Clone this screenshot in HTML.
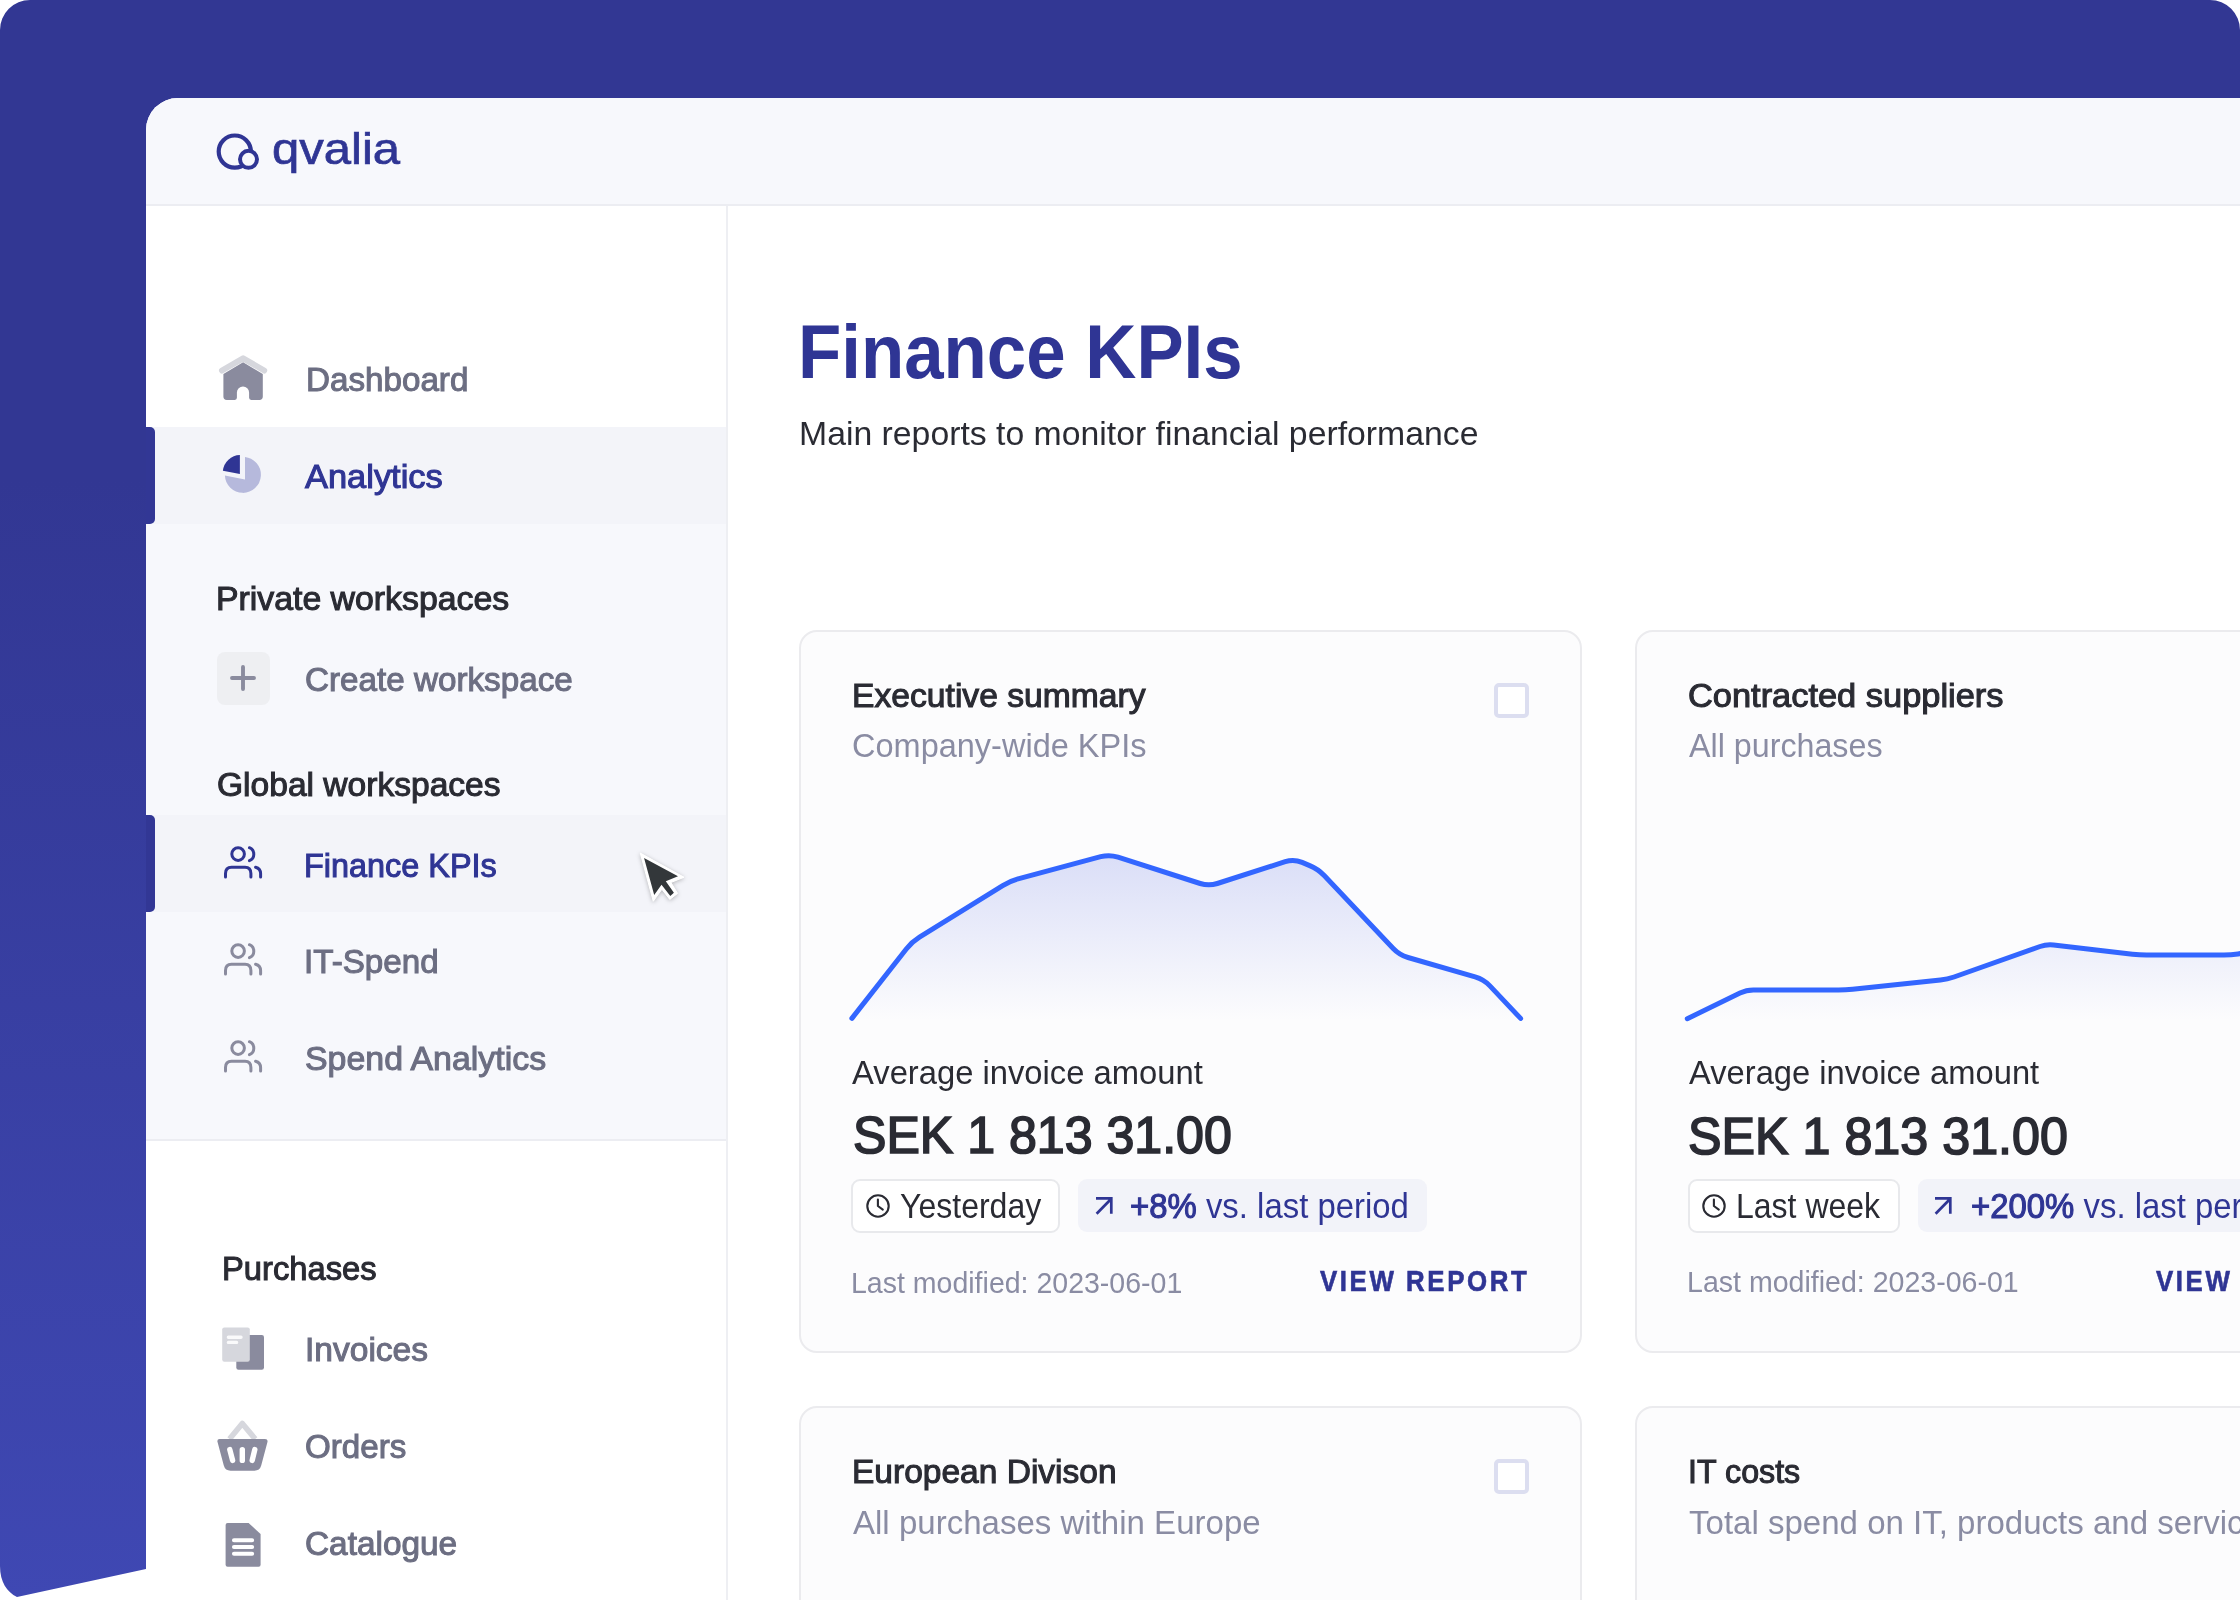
<!DOCTYPE html>
<html><head><meta charset="utf-8"><title>Finance KPIs - qvalia</title>
<style>
*{box-sizing:border-box;margin:0;padding:0}
html,body{width:2240px;height:1600px;overflow:hidden;background:#fff}
body{position:relative;font-family:'Liberation Sans', Arial, sans-serif}
.t{position:absolute;line-height:1;white-space:nowrap;transform-origin:0 0;font-family:'Liberation Sans', Arial, sans-serif}
.t b{font-weight:700}
.ab{position:absolute}
.ic{position:absolute;overflow:visible}
.card{position:absolute;width:783px;border:2px solid #ebebee;border-radius:18px;background:#fcfcfd}
.chk{position:absolute;width:35px;height:35px;border:4px solid #dcdef0;border-radius:5px;background:#fff}
.pill{position:absolute;height:54px;border-radius:9px}
</style></head><body>
<svg class="ab" style="left:0;top:0" width="2240" height="1600" viewBox="0 0 2240 1600">
<defs><linearGradient id="bg" x1="0" y1="0" x2="0" y2="1600" gradientUnits="userSpaceOnUse">
<stop offset="0" stop-color="#323793"/><stop offset="0.3" stop-color="#323793"/><stop offset="1" stop-color="#3f48b3"/></linearGradient></defs>
<path d="M0 30 A30 30 0 0 1 30 0 H2210 A30 30 0 0 1 2240 30 V1000 H300 L146 1569 L17 1597 C7 1592 0 1582 0 1566 Z" fill="url(#bg)"/>
</svg>

<div class="ab" style="left:146px;top:98px;width:2200px;height:1600px;border-top-left-radius:32px;background:#fff;overflow:hidden">
  <div class="ab" style="left:0;top:0;width:2200px;height:108px;background:#f7f8fc;border-bottom:2px solid #ecedf2"></div>
  <div class="ab" style="left:0;top:108px;width:582px;height:1500px;background:#fff;border-right:2px solid #eeeff3"></div>
  <div class="ab" style="left:0;top:329px;width:580px;height:97px;background:#f3f4f9"></div>
  <div class="ab" style="left:0;top:426px;width:580px;height:617px;background:#f7f8fc;border-bottom:2px solid #ecedf2"></div>
  <div class="ab" style="left:0;top:717px;width:580px;height:97px;background:#f3f4f9"></div>
  <div class="ab" style="left:0;top:329px;width:9px;height:97px;background:#323795;border-radius:0 5px 5px 0"></div>
  <div class="ab" style="left:0;top:717px;width:9px;height:97px;background:#323795;border-radius:0 5px 5px 0"></div>
</div>

<!-- logo -->
<svg class="ic" style="left:210px;top:128px" width="60" height="50" viewBox="210 128 60 50">
<circle cx="234.8" cy="151.6" r="16.1" fill="none" stroke="#2f3594" stroke-width="4.2"/>
<circle cx="248.5" cy="159.3" r="8.5" fill="#f7f8fc" stroke="#2f3594" stroke-width="4"/>
</svg>

<!-- sidebar icons -->
<svg class="ic" style="left:212px;top:348px" width="60" height="60" viewBox="0 0 60 60">
<path d="M11.4 25.9 L31.1 14.3 L50.8 25.9 V48.5 Q50.8 51.9 47.4 51.9 H39.2 Q37.1 51.9 37.1 49.8 V44.6 A6.1 6.1 0 0 0 24.9 44.6 V49.8 Q24.9 51.9 22.8 51.9 H14.8 Q11.4 51.9 11.4 48.5 Z" fill="#8a8b9e"/>
<path d="M10 22.5 L31.1 10.3 L52.2 22.5" fill="none" stroke="#d6d7dd" stroke-width="6" stroke-linecap="round" stroke-linejoin="round"/>
</svg>
<svg class="ic" style="left:212px;top:445px" width="60" height="60" viewBox="0 0 60 60">
<path d="M33 12 A18 18 0 1 1 12.9 30.6 L33 34.5 Z" fill="#b6b9dc"/>
<path d="M27.9 10.1 V28.9 L10.9 25.7 A17.5 17.5 0 0 1 27.9 10.1 Z" fill="#2f3594"/>
</svg>
<div class="ab" style="left:217px;top:652px;width:52.5px;height:52.5px;border-radius:8px;background:#eeeff2"></div>
<svg class="ic" style="left:210px;top:645px" width="65" height="65" viewBox="0 0 65 65"><path d="M33 22 V44 M22 33 H44" stroke="#8a8b9e" stroke-width="3.9" stroke-linecap="round"/></svg>
<svg class="ic" style="left:215px;top:838px" width="56" height="50" viewBox="0 0 56 50" fill="none" stroke="#2f3594" stroke-width="3" stroke-linecap="round" stroke-linejoin="round">
<circle cx="23.1" cy="16.1" r="6.3"/><path d="M34.4 9.7 A7 7 0 0 1 34.4 22.7"/>
<path d="M10.5 39.1 V35.5 Q10.5 29.2 16.5 29.2 H30 Q35.9 29.2 35.9 35.5 V39.1"/><path d="M40.6 29.2 Q45.6 30.6 45.6 35.5 V39.1"/></svg>
<svg class="ic" style="left:215px;top:935px" width="56" height="50" viewBox="0 0 56 50" fill="none" stroke="#8a8b9e" stroke-width="3" stroke-linecap="round" stroke-linejoin="round">
<circle cx="23.1" cy="16.1" r="6.3"/><path d="M34.4 9.7 A7 7 0 0 1 34.4 22.7"/>
<path d="M10.5 39.1 V35.5 Q10.5 29.2 16.5 29.2 H30 Q35.9 29.2 35.9 35.5 V39.1"/><path d="M40.6 29.2 Q45.6 30.6 45.6 35.5 V39.1"/></svg>
<svg class="ic" style="left:215px;top:1032px" width="56" height="50" viewBox="0 0 56 50" fill="none" stroke="#8a8b9e" stroke-width="3" stroke-linecap="round" stroke-linejoin="round">
<circle cx="23.1" cy="16.1" r="6.3"/><path d="M34.4 9.7 A7 7 0 0 1 34.4 22.7"/>
<path d="M10.5 39.1 V35.5 Q10.5 29.2 16.5 29.2 H30 Q35.9 29.2 35.9 35.5 V39.1"/><path d="M40.6 29.2 Q45.6 30.6 45.6 35.5 V39.1"/></svg>
<svg class="ic" style="left:210px;top:1315px" width="65" height="65" viewBox="0 0 65 65">
<rect x="26.3" y="20.1" width="27.7" height="34.6" rx="2.2" fill="#8a8b9e"/>
<rect x="12.2" y="12.4" width="27.6" height="34.3" rx="2.2" fill="#d6d7dd"/>
<path d="M18.4 22.2 H31 M18.4 27.4 H26.6" stroke="#fafafb" stroke-width="3.4" stroke-linecap="round"/>
</svg>
<svg class="ic" style="left:210px;top:1412px" width="65" height="65" viewBox="0 0 65 65">
<path d="M19.5 27 L32.3 11.5 L45.2 27" fill="none" stroke="#d6d7dd" stroke-width="5.6" stroke-linejoin="round"/>
<path d="M9.5 27 H55 Q58.3 27 57.4 30.3 L51.2 53.5 Q49.8 58.7 44.4 58.7 H20.6 Q15.2 58.7 13.8 53.5 L7.6 30.3 Q6.7 27 9.5 27 Z" fill="#8a8b9e"/>
<path d="M19.8 37.6 L22.6 48.4 M32.3 37.6 V48.4 M44.8 37.6 L42.2 48.4" stroke="#fff" stroke-width="5.4" stroke-linecap="round"/>
</svg>
<svg class="ic" style="left:210px;top:1512px" width="65" height="65" viewBox="0 0 65 65">
<path d="M17.6 11 H38.6 L50.6 22 V52.7 Q50.6 54.7 48.6 54.7 H17.6 Q15.6 54.7 15.6 52.7 V13 Q15.6 11 17.6 11 Z" fill="#8a8b9e"/>
<path d="M24 28.3 H42.1 M24 35 H42.1 M24 41.7 H42.1" stroke="#fff" stroke-width="4.1" stroke-linecap="round"/>
</svg>

<!-- cursor -->
<svg class="ic" style="left:630px;top:845px;filter:drop-shadow(0 1.5px 2px rgba(0,0,0,0.25))" width="60" height="60" viewBox="630 845 60 60">
<path d="M640.3 853.1 L684 877.25 L670.9 882.5 L677.6 893.4 L669.75 899.4 L661.9 889.25 L653.25 901.25 Z" fill="#fff" stroke="#fff" stroke-width="1" stroke-linejoin="round"/>
<path d="M644.06 857.9 L678 876.3 L665.8 881.2 L673.9 892.8 L670.3 896 L661.5 884.75 L654.2 895 Z" fill="#33373a"/>
</svg>

<!-- cards -->
<div class="card" style="left:799px;top:630px;height:722.5px"></div>
<div class="card" style="left:1635px;top:630px;height:722.5px"></div>
<div class="card" style="left:799px;top:1406px;height:400px"></div>
<div class="card" style="left:1635px;top:1406px;height:400px"></div>
<div class="chk" style="left:1493.7px;top:682.6px"></div>
<div class="chk" style="left:1493.7px;top:1459px"></div>

<svg class="ab" style="left:0;top:0" width="2240" height="1600" viewBox="0 0 2240 1600">
<defs><linearGradient id="ag" x1="0" y1="850" x2="0" y2="1020" gradientUnits="userSpaceOnUse">
<stop offset="0" stop-color="#d9ddf7"/><stop offset="1" stop-color="#fcfcfd"/></linearGradient></defs>
<path d="M851.9 1018.4 L906.3 949.0 Q911.9 941.9 919.5 937.2 L1002.7 885.6 Q1010.3 880.9 1019.0 878.6 L1100.7 856.7 Q1109.4 854.4 1118.0 857.1 L1200.2 883.5 Q1208.8 886.2 1217.3 883.5 L1285.2 861.7 Q1293.8 859.0 1302.1 862.4 L1309.7 865.6 Q1318.0 869.0 1324.2 875.5 L1393.2 948.5 Q1399.4 955.0 1408.0 957.5 L1475.1 976.9 Q1483.8 979.4 1489.9 985.9 L1520.6 1018.4 L1520.6 1020 L851.9 1020 Z" fill="url(#ag)"/>
<path d="M1687.3 1018.7 L1740.0 993.1 Q1746.3 990.0 1753.3 990.0 L1838.6 990.0 Q1845.6 990.0 1852.6 989.3 L1940.4 980.0 Q1947.4 979.3 1954.0 977.0 L2040.0 946.5 Q2046.6 944.2 2053.6 945.0 L2132.5 954.3 Q2139.5 955.1 2146.5 955.1 L2224.0 955.1 Q2231.0 955.1 2237.9 954.0 L2262.0 950.0 L2262 1020 L1687.3 1020 Z" fill="url(#ag)"/>
<path d="M851.9 1018.4 L906.3 949.0 Q911.9 941.9 919.5 937.2 L1002.7 885.6 Q1010.3 880.9 1019.0 878.6 L1100.7 856.7 Q1109.4 854.4 1118.0 857.1 L1200.2 883.5 Q1208.8 886.2 1217.3 883.5 L1285.2 861.7 Q1293.8 859.0 1302.1 862.4 L1309.7 865.6 Q1318.0 869.0 1324.2 875.5 L1393.2 948.5 Q1399.4 955.0 1408.0 957.5 L1475.1 976.9 Q1483.8 979.4 1489.9 985.9 L1520.6 1018.4" fill="none" stroke="#3366ff" stroke-width="5" stroke-linecap="round" stroke-linejoin="round"/>
<path d="M1687.3 1018.7 L1740.0 993.1 Q1746.3 990.0 1753.3 990.0 L1838.6 990.0 Q1845.6 990.0 1852.6 989.3 L1940.4 980.0 Q1947.4 979.3 1954.0 977.0 L2040.0 946.5 Q2046.6 944.2 2053.6 945.0 L2132.5 954.3 Q2139.5 955.1 2146.5 955.1 L2224.0 955.1 Q2231.0 955.1 2237.9 954.0 L2262.0 950.0" fill="none" stroke="#3366ff" stroke-width="5" stroke-linecap="round" stroke-linejoin="round"/>
</svg>

<!-- pills -->
<div class="pill" style="left:851.3px;top:1178.6px;width:209px;border:2px solid #e8e9ec;background:#fff"></div>
<div class="pill" style="left:1077.9px;top:1179.4px;width:348.7px;height:52.7px;background:#f2f3f9"></div>
<div class="pill" style="left:1687.8px;top:1179.4px;width:212.3px;border:2px solid #e8e9ec;background:#fff"></div>
<div class="pill" style="left:1917.5px;top:1179.4px;width:420px;height:52.7px;background:#f2f3f9"></div>
<svg class="ic" style="left:863.2px;top:1190.8px" width="30" height="30" viewBox="0 0 30 30" fill="none" stroke="#2a2b33" stroke-width="2.1" stroke-linecap="round" stroke-linejoin="round">
<circle cx="15" cy="15" r="10.7"/><path d="M14.9 8.6 V15 L19.8 18.6"/></svg><svg class="ic" style="left:1699.4px;top:1190.8px" width="30" height="30" viewBox="0 0 30 30" fill="none" stroke="#2a2b33" stroke-width="2.1" stroke-linecap="round" stroke-linejoin="round">
<circle cx="15" cy="15" r="10.7"/><path d="M14.9 8.6 V15 L19.8 18.6"/></svg><svg class="ic" style="left:1088px;top:1188px" width="30" height="30" viewBox="0 0 30 30" fill="none" stroke="#2f3594" stroke-width="2.7" stroke-linecap="butt" stroke-linejoin="miter">
<path d="M8.6 25.7 L23.3 10.7 M8 10.4 H23.3 V25.7"/></svg><svg class="ic" style="left:1926.8px;top:1188px" width="30" height="30" viewBox="0 0 30 30" fill="none" stroke="#2f3594" stroke-width="2.7" stroke-linecap="butt" stroke-linejoin="miter">
<path d="M8.6 25.7 L23.3 10.7 M8 10.4 H23.3 V25.7"/></svg>
<!-- text -->
<div class="t" style="left:305.68px;top:363.6px;font-size:32.94px;font-weight:400;-webkit-text-stroke:1.05px currentColor;color:#6c6e82;transform:scaleX(1.0082);">Dashboard</div>
<div class="t" style="left:305.0px;top:460.7px;font-size:32.94px;font-weight:400;-webkit-text-stroke:1.05px currentColor;color:#2f3594;transform:scaleX(1.0458);">Analytics</div>
<div class="t" style="left:215.95px;top:583.2px;font-size:32.94px;font-weight:400;-webkit-text-stroke:1.05px currentColor;color:#2a2b33;transform:scaleX(1.0269);">Private workspaces</div>
<div class="t" style="left:304.99px;top:663.9px;font-size:32.94px;font-weight:400;-webkit-text-stroke:1.05px currentColor;color:#6c6e82;transform:scaleX(1.0091);">Create workspace</div>
<div class="t" style="left:216.58px;top:768.9px;font-size:32.94px;font-weight:400;-webkit-text-stroke:1.05px currentColor;color:#2a2b33;transform:scaleX(1.0195);">Global workspaces</div>
<div class="t" style="left:304.03px;top:849.5px;font-size:32.94px;font-weight:400;-webkit-text-stroke:1.05px currentColor;color:#2f3594;transform:scaleX(0.9845);">Finance KPIs</div>
<div class="t" style="left:303.98px;top:946.2px;font-size:32.94px;font-weight:400;-webkit-text-stroke:1.05px currentColor;color:#6c6e82;transform:scaleX(1.0077);">IT-Spend</div>
<div class="t" style="left:304.97px;top:1042.6px;font-size:32.94px;font-weight:400;-webkit-text-stroke:1.05px currentColor;color:#6c6e82;transform:scaleX(1.0292);">Spend Analytics</div>
<div class="t" style="left:221.61px;top:1253.0px;font-size:32.94px;font-weight:400;-webkit-text-stroke:1.05px currentColor;color:#2a2b33;transform:scaleX(0.9935);">Purchases</div>
<div class="t" style="left:305.36px;top:1334.0px;font-size:32.94px;font-weight:400;-webkit-text-stroke:1.05px currentColor;color:#6c6e82;transform:scaleX(1.0186);">Invoices</div>
<div class="t" style="left:305.39px;top:1431.0px;font-size:32.94px;font-weight:400;-webkit-text-stroke:1.05px currentColor;color:#6c6e82;transform:scaleX(1.0061);">Orders</div>
<div class="t" style="left:305.39px;top:1528.0px;font-size:32.94px;font-weight:400;-webkit-text-stroke:1.05px currentColor;color:#6c6e82;transform:scaleX(1.0135);">Catalogue</div>
<div class="t" style="left:798.0px;top:314.8px;font-size:75.35px;font-weight:700;color:#2f3594;transform:scaleX(0.9398);">Finance KPIs</div>
<div class="t" style="left:798.87px;top:416.5px;font-size:33.45px;font-weight:400;color:#2a2b33;transform:scaleX(1.0099);">Main reports to monitor financial performance</div>
<div class="t" style="left:852.22px;top:679.9px;font-size:32.38px;font-weight:400;-webkit-text-stroke:1.04px currentColor;color:#2a2b33;transform:scaleX(1.0395);">Executive summary</div>
<div class="t" style="left:851.66px;top:729.4px;font-size:33.6px;font-weight:400;color:#8a8ca3;transform:scaleX(0.9681);">Company-wide KPIs</div>
<div class="t" style="left:852.1px;top:1055.9px;font-size:33.38px;font-weight:400;color:#2a2b33;transform:scaleX(0.9813);">Average invoice amount</div>
<div class="t" style="left:853.35px;top:1108.9px;font-size:52.54px;font-weight:400;-webkit-text-stroke:1.68px currentColor;color:#2a2b33;transform:scaleX(0.9537);">SEK 1 813 31.00</div>
<div class="t" style="left:900.07px;top:1189.2px;font-size:34.33px;font-weight:400;color:#2a2b33;transform:scaleX(0.9327);">Yesterday</div>
<div class="t" style="left:1130.44px;top:1189.2px;font-size:34.33px;font-weight:400;color:#2f3594;transform:scaleX(0.9583);"><span style="-webkit-text-stroke:1.1px currentColor">+8%</span> vs. last period</div>
<div class="t" style="left:851.46px;top:1267.7px;font-size:29.38px;font-weight:400;color:#8a8ca3;transform:scaleX(0.9707);">Last modified: 2023-06-01</div>
<div class="t" style="left:1319.5px;top:1266.8px;font-size:28.8px;font-weight:700;-webkit-text-stroke:0.6px currentColor;color:#2f3594;transform:scaleX(0.897);letter-spacing:0.1em;">VIEW REPORT</div>
<div class="t" style="left:1687.54px;top:680.0px;font-size:32.38px;font-weight:400;-webkit-text-stroke:1.04px currentColor;color:#2a2b33;transform:scaleX(1.0624);">Contracted suppliers</div>
<div class="t" style="left:1688.6px;top:729.2px;font-size:33.6px;font-weight:400;color:#8a8ca3;transform:scaleX(0.9602);">All purchases</div>
<div class="t" style="left:1688.6px;top:1056.2px;font-size:33.38px;font-weight:400;color:#2a2b33;transform:scaleX(0.9796);">Average invoice amount</div>
<div class="t" style="left:1688.24px;top:1109.5px;font-size:52.54px;font-weight:400;-webkit-text-stroke:1.68px currentColor;color:#2a2b33;transform:scaleX(0.9565);">SEK 1 813 31.00</div>
<div class="t" style="left:1735.7px;top:1188.5px;font-size:34.33px;font-weight:400;color:#2a2b33;transform:scaleX(0.9322);">Last week</div>
<div class="t" style="left:1970.54px;top:1189.2px;font-size:34.33px;font-weight:400;color:#2f3594;transform:scaleX(0.9583);"><span style="-webkit-text-stroke:1.1px currentColor">+200%</span> vs. last period</div>
<div class="t" style="left:1687.26px;top:1267.4px;font-size:29.38px;font-weight:400;color:#8a8ca3;transform:scaleX(0.9719);">Last modified: 2023-06-01</div>
<div class="t" style="left:2155.6px;top:1266.8px;font-size:28.8px;font-weight:700;-webkit-text-stroke:0.6px currentColor;color:#2f3594;transform:scaleX(0.897);letter-spacing:0.1em;">VIEW REPORT</div>
<div class="t" style="left:852.23px;top:1456.3px;font-size:32.38px;font-weight:400;-webkit-text-stroke:1.04px currentColor;color:#2a2b33;transform:scaleX(1.0353);">European Divison</div>
<div class="t" style="left:852.5px;top:1505.8px;font-size:33.6px;font-weight:400;color:#8a8ca3;transform:scaleX(0.9838);">All purchases within Europe</div>
<div class="t" style="left:1688.01px;top:1455.8px;font-size:32.38px;font-weight:400;-webkit-text-stroke:1.04px currentColor;color:#2a2b33;transform:scaleX(0.9955);">IT costs</div>
<div class="t" style="left:1688.52px;top:1505.8px;font-size:33.6px;font-weight:400;color:#8a8ca3;transform:scaleX(0.9838);">Total spend on IT, products and services</div>
<div class="t" style="left:272.09px;top:127.2px;font-size:44.36px;font-weight:400;-webkit-text-stroke:0.7px currentColor;color:#2f3594;transform:scaleX(1.1052);">qvalia</div>
</body></html>
